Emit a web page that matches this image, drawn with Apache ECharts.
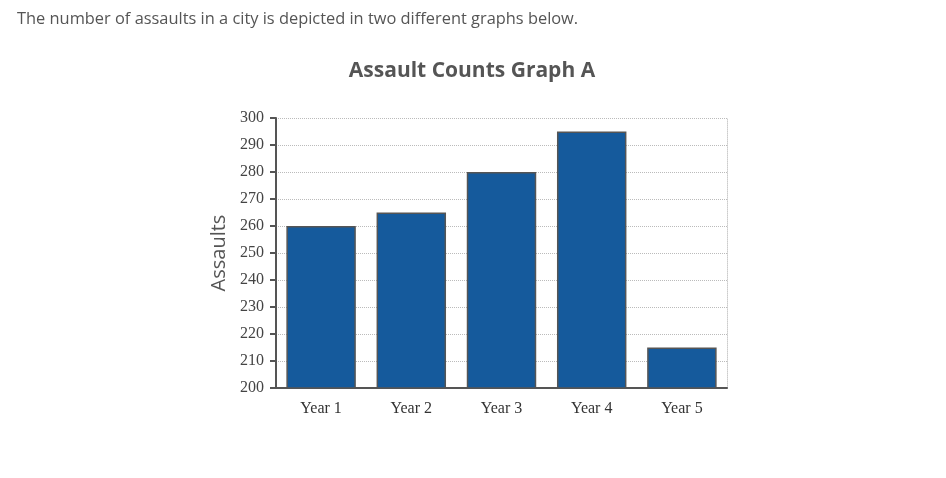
<!DOCTYPE html>
<html>
<head>
<meta charset="utf-8">
<script src="https://cdn.jsdelivr.net/npm/echarts@6/dist/echarts.min.js"></script>
<style>
  html, body { margin: 0; padding: 0; background: #fff; }
  #chart { width: 946px; height: 478px; }
</style>
</head>
<body>
<div id="chart"></div>
<script>
  'use strict'

  var categories = ['Year 1', 'Year 2', 'Year 3', 'Year 4', 'Year 5'];
  var assaults = [260, 265, 280, 295, 215];
  var yMin = 200, yMax = 300, yStep = 10;

  var chart = echarts.init(document.getElementById('chart'));
  var option = {
    animation: false,
    title: [
      {
        text: 'The number of assaults in a city is depicted in two different graphs below.',
        left: 12, top: 6,
        textStyle: { fontFamily: 'Open Sans', fontSize: 16.4, fontWeight: 'normal', color: '#555' }
      },
      {
        text: 'Assault Counts Graph A',
        left: 467, top: 56, textAlign: 'center',
        textStyle: { fontFamily: 'Open Sans', fontSize: 21, fontWeight: 'bold', color: '#555' }
      }
    ],
    grid: { left: 276, right: 219, top: 118, bottom: 90 },
    xAxis: {
      type: 'category',
      data: categories,
      axisLine: { lineStyle: { color: '#555', width: 2 } },
      axisTick: { alignWithLabel: true, length: 6, lineStyle: { color: '#555', width: 2 } },
      axisLabel: { fontFamily: 'Liberation Serif', fontSize: 16, color: '#333', margin: 13 }
    },
    yAxis: [
      {
        type: 'value',
        min: yMin, max: yMax, interval: yStep,
        name: 'Assaults',
        nameLocation: 'middle',
        nameGap: 47,
        nameTextStyle: { fontFamily: 'Open Sans', fontSize: 20, color: '#555' },
        axisLine: { show: true, lineStyle: { color: '#555', width: 2 } },
        axisTick: { show: true, length: 6, lineStyle: { color: '#555', width: 2 } },
        axisLabel: { fontFamily: 'Liberation Serif', fontSize: 16, color: '#444', margin: 12 },
        splitLine: { lineStyle: { color: '#bbb', type: 'dotted', width: 1 } }
      },
      {
        type: 'value',
        position: 'right',
        min: yMin, max: yMax, interval: yStep,
        axisLine: { show: true, lineStyle: { color: '#ccc', type: 'dotted', width: 1 } },
        axisTick: { show: false },
        axisLabel: { show: false },
        splitLine: { show: false }
      }
    ],
    series: [
      {
        type: 'bar',
        data: assaults,
        barCategoryGap: '23%',
        itemStyle: { color: '#155a9c', borderColor: '#555', borderWidth: 1.5 }
      }
    ]
  };
  chart.setOption(option);
</script>
</body>
</html>
